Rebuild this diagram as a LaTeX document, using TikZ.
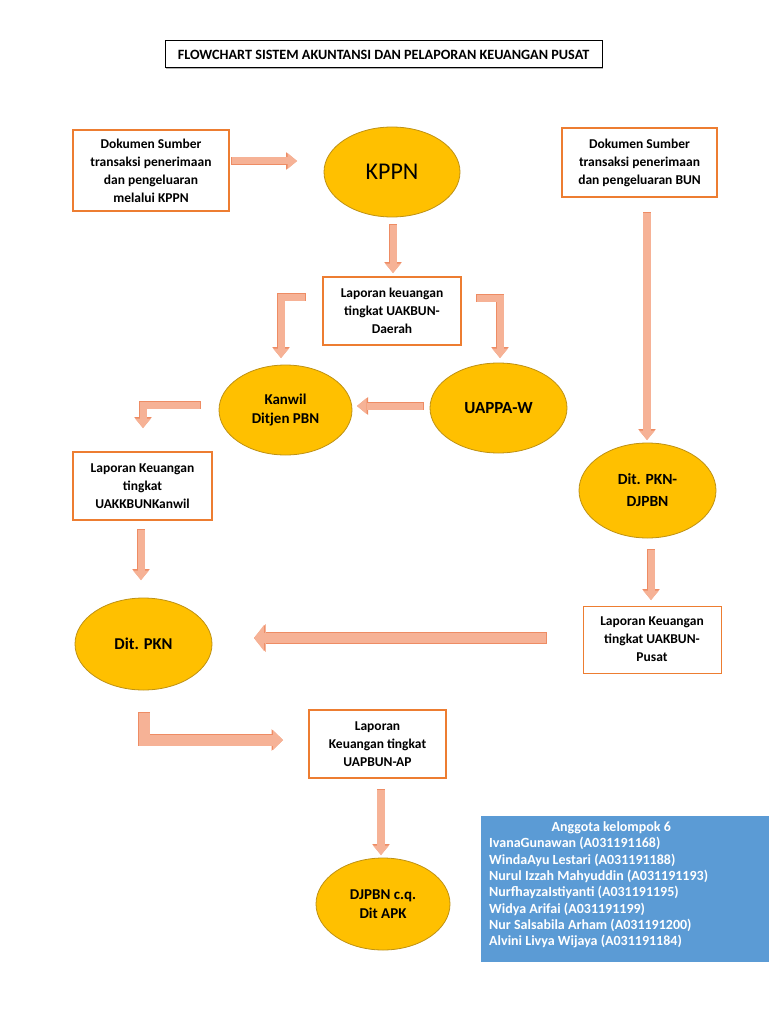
\documentclass[tikz,border=0pt]{standalone}
\usepackage{fontspec}
\setmainfont{Carlito}
\usepackage{tikz}
\usetikzlibrary{arrows.meta,shapes,positioning,shadows}
\usepackage{xcolor}
\definecolor{boxorange}{RGB}{237,125,49}
\definecolor{ovalgold}{RGB}{255,192,0}
\definecolor{ovaledge}{RGB}{190,145,20}
\definecolor{flowfill}{RGB}{246,178,150}
\definecolor{flowedge}{RGB}{238,140,100}
\definecolor{groupblue}{RGB}{91,155,213}
\tikzstyle{docbox} = [draw=boxorange, line width=1.2pt, fill=white, align=center, inner sep=0pt, font=\bfseries\fontsize{13.5}{18}\selectfont]
\tikzstyle{oval} = [ellipse, draw=ovaledge, line width=0.8pt, fill=ovalgold, align=center, inner sep=0pt, minimum width=136pt, minimum height=90pt, font=\bfseries\fontsize{15}{19}\selectfont]
\tikzstyle{flow} = [line width=7pt, draw=flowfill, -{Triangle[width=16pt,length=9.5pt,line width=0pt]}, preaction={draw=flowedge, line width=8.4pt, shorten <=-0.7pt, -{Triangle[width=17.6pt,length=11pt,line width=0pt]}}]
\tikzstyle{flowwide} = [line width=11pt, draw=flowfill, -{Triangle[width=20pt,length=10pt,line width=0pt]}, preaction={draw=flowedge, line width=12.4pt, shorten <=-0.7pt, -{Triangle[width=21.6pt,length=11.5pt,line width=0pt]}}]
\tikzstyle{flowlong} = [line width=10.5pt, draw=flowfill, -{Triangle[width=26pt,length=10pt,line width=0pt]}, preaction={draw=flowedge, line width=11.9pt, shorten <=-0.7pt, -{Triangle[width=27.6pt,length=11.5pt,line width=0pt]}}]

\begin{document}
\begin{tikzpicture}[x=1pt, y=-1pt]
\useasboundingbox (0,0) rectangle (768,1024);

% Title
\node[draw, line width=1pt, fill=white, minimum width=437pt, minimum height=27pt, inner sep=0pt,
  drop shadow={shadow xshift=1pt, shadow yshift=-1pt, opacity=0.6},
  font=\bfseries\fontsize{14.2}{17}\selectfont] (title) at (383.5,54.5)
  {FLOWCHART SISTEM AKUNTANSI DAN PELAPORAN KEUANGAN PUSAT};

% Boxes
\node[docbox, minimum width=156pt, minimum height=81pt] (doc1) at (151,170.5)
  {Dokumen Sumber\\transaksi penerimaan\\dan pengeluaran\\melalui KPPN};
\node[docbox, minimum width=155pt, minimum height=69pt] (doc2) at (639.5,162.5)
  {Dokumen Sumber\\transaksi penerimaan\\dan pengeluaran BUN};
\node[docbox, minimum width=138pt, minimum height=68pt] (lapdaerah) at (392,311)
  {Laporan keuangan\\tingkat UAKBUN-\\Daerah};
\node[docbox, minimum width=139pt, minimum height=68pt] (lapkanwil) at (142.5,486)
  {Laporan Keuangan\\tingkat\\UAKKBUNKanwil};
\node[docbox, line width=0.8pt, minimum width=138pt, minimum height=67pt] (lappusat) at (652,639.5)
  {Laporan Keuangan\\tingkat UAKBUN-\\Pusat};
\node[docbox, minimum width=137pt, minimum height=68pt] (lapap) at (377.5,744)
  {Laporan\\Keuangan tingkat\\UAPBUN-AP};

% Ovals
\node[oval, font=\fontsize{24}{28}\selectfont] (kppn) at (392,172) {KPPN};
\node[oval, minimum width=133pt] (kanwil) at (285.5,410) {Kanwil\\Ditjen PBN};
\node[oval, minimum width=137pt, font=\bfseries\fontsize{17}{20}\selectfont] (uappaw) at (498.5,408) {UAPPA-W};
\node[oval, minimum width=137pt, minimum height=92pt, font=\bfseries\fontsize{16.5}{20}\selectfont] (ditpkn) at (143.5,644) {Dit. PKN};
\node[oval, minimum width=137pt, minimum height=95pt, font=\bfseries\fontsize{15.5}{22}\selectfont] (djpbnpkn) at (647.5,490.5) {Dit. PKN-\\DJPBN};
\node[oval, minimum width=134pt, minimum height=92pt, font=\bfseries\fontsize{15}{19}\selectfont] (ditapk) at (383,904) {DJPBN c.q.\\Dit APK};

% Arrow ends
\coordinate (f1a) at (232,161);   \coordinate (f1b) at (297,161);
\coordinate (f2a) at (393,225);   \coordinate (f2b) at (393,273);
\coordinate (f3a) at (305,297);   \coordinate (f3b) at (281,358);
\coordinate (f4a) at (477,298);   \coordinate (f4b) at (500,358);
\coordinate (f5a) at (423,406);   \coordinate (f5b) at (357,406);
\coordinate (f6a) at (200,405);   \coordinate (f6b) at (143,428);
\coordinate (f7a) at (141,530);   \coordinate (f7b) at (141,580);
\coordinate (f8a) at (647,213);   \coordinate (f8b) at (647,440);
\coordinate (f9a) at (651,550);   \coordinate (f9b) at (651,600);
\coordinate (f10a) at (546,638);  \coordinate (f10b) at (254,638);
\coordinate (f11a) at (144,713);  \coordinate (f11b) at (283,740);
\coordinate (f12a) at (381,790);  \coordinate (f12b) at (381,855);

% Arrows
\draw[flow] (f1a) -- (f1b);
\draw[flow] (f2a) -- (f2b);
\draw[flow] (f3a) -| (f3b);
\draw[flow] (f4a) -| (f4b);
\draw[flow] (f5a) -- (f5b);
\draw[flow] (f6a) -| (f6b);
\draw[flow] (f7a) -- (f7b);
\draw[flow, line width=8.6pt, preaction={line width=10pt}] (f8a) -- (f8b);
\draw[flow] (f9a) -- (f9b);
\draw[flowlong] (f10a) -- (f10b);
\draw[flowwide] (f11a) |- (f11b);
\draw[flow, line width=8pt, preaction={line width=9.4pt}] (f12a) -- (f12b);

% Group members
\fill[groupblue] (481,816) rectangle (770,962);
\node[text=white, align=left, inner sep=0pt, anchor=west, font=\bfseries\fontsize{14}{16.3}\selectfont] (members) at (489,885)
  {\makebox[244pt][c]{Anggota kelompok 6}\\
   IvanaGunawan (A031191168)\\
   WindaAyu Lestari (A031191188)\\
   Nurul Izzah Mahyuddin (A031191193)\\
   NurfhayzaIstiyanti (A031191195)\\
   Widya Arifai (A031191199)\\
   Nur Salsabila Arham (A031191200)\\
   Alvini Livya Wijaya (A031191184)};
\end{tikzpicture}
\end{document}
